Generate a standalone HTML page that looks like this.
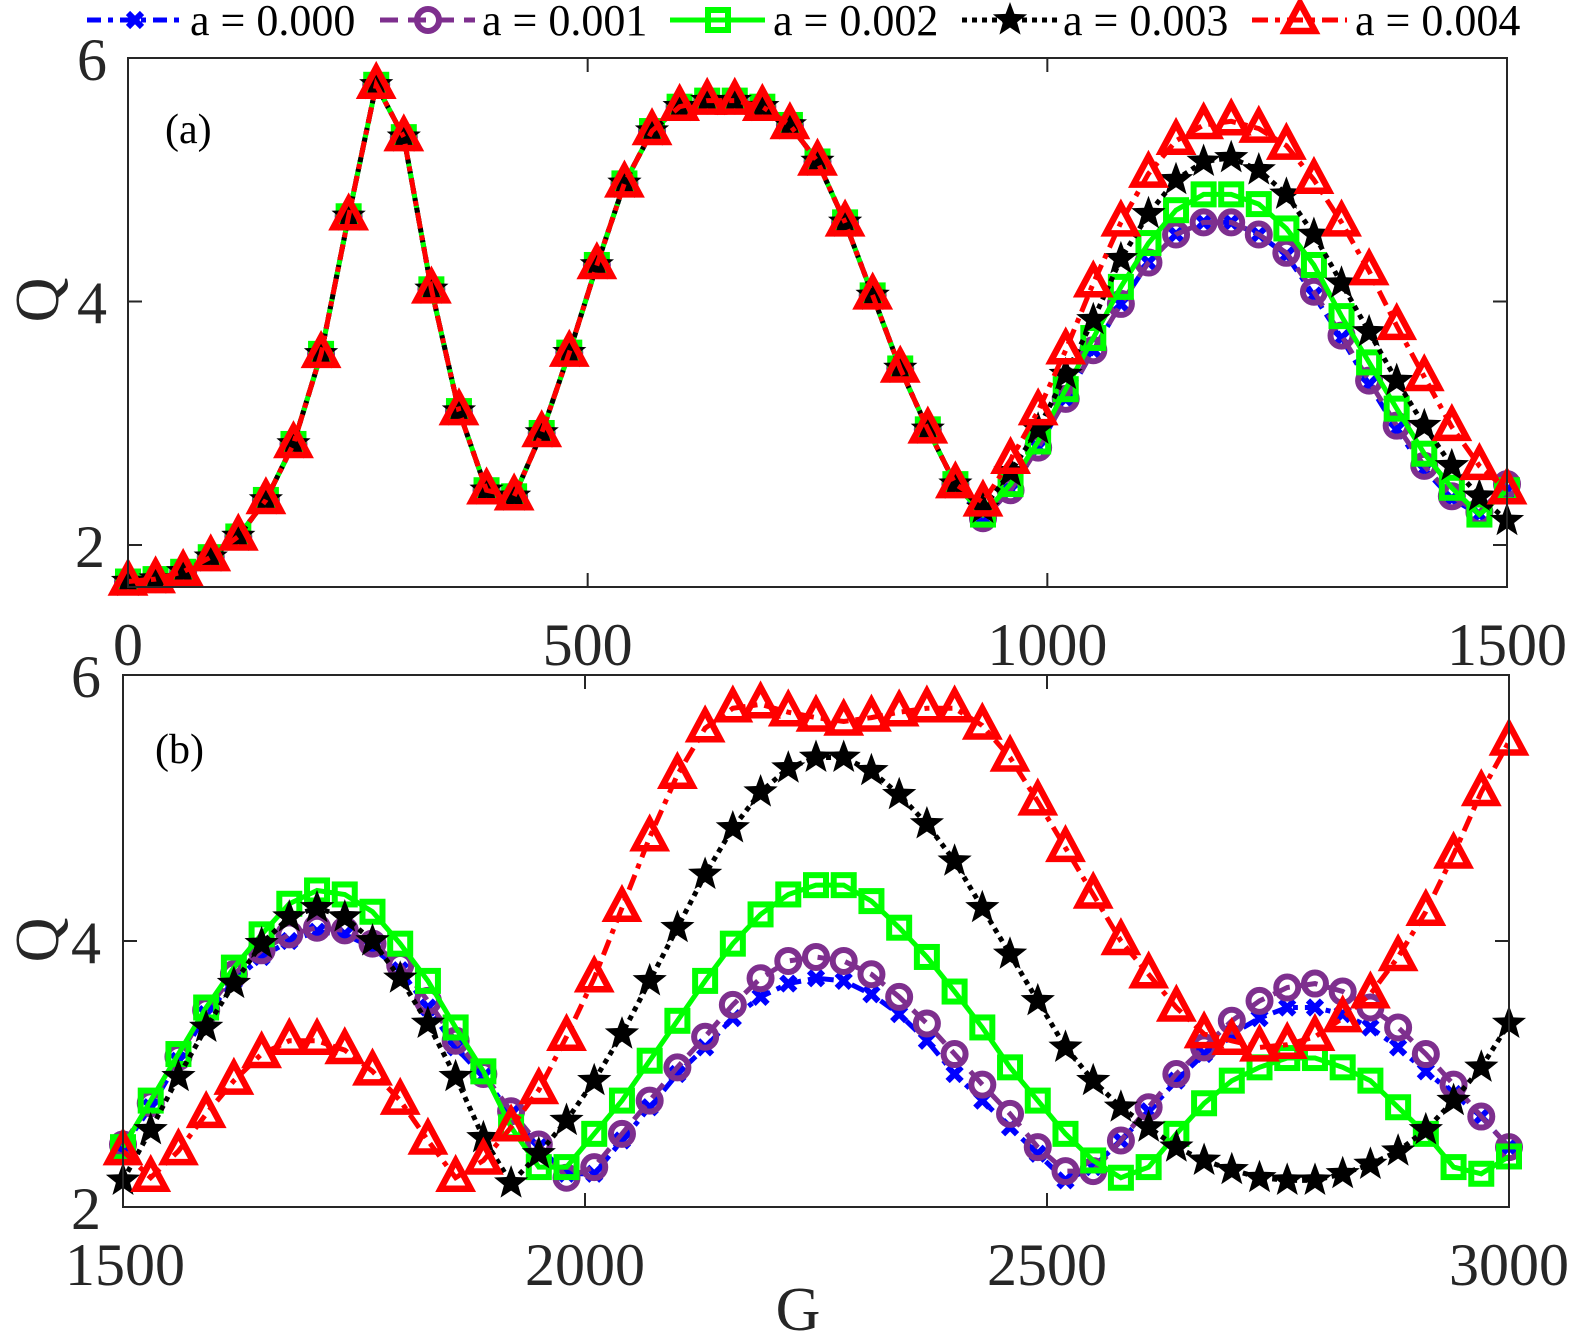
<!DOCTYPE html>
<html><head><meta charset="utf-8"><style>
html,body{margin:0;padding:0;background:#fff;}
svg{display:block;font-family:"Liberation Serif",serif;}
</style></head><body>
<svg id="s" width="1570" height="1333" xmlns="http://www.w3.org/2000/svg"></svg>
<script>
const S=document.getElementById('s');
let h='';
const common=[1.7,1.72,1.78,1.9,2.07,2.37,2.83,3.57,4.7,5.78,5.35,4.1,3.1,2.45,2.4,2.92,3.58,4.3,4.97,5.4,5.6,5.65,5.65,5.6,5.45,5.15,4.65,4.05,3.45,2.95,2.5];
const aTail={
b:[2.22,2.45,2.8,3.2,3.6,3.98,4.32,4.55,4.65,4.65,4.55,4.38,4.05,3.7,3.32,2.95,2.62,2.38,2.25,2.45],
p:[2.22,2.45,2.8,3.2,3.6,3.98,4.32,4.55,4.65,4.65,4.55,4.4,4.08,3.72,3.35,2.98,2.65,2.4,2.27,2.5],
g:[2.25,2.5,2.85,3.28,3.7,4.12,4.48,4.75,4.88,4.88,4.8,4.6,4.3,3.88,3.5,3.12,2.75,2.47,2.25,2.45],
k:[2.3,2.6,2.95,3.4,3.85,4.35,4.72,5.0,5.15,5.18,5.08,4.88,4.55,4.15,3.75,3.35,2.98,2.65,2.4,2.2],
r:[2.35,2.7,3.1,3.6,4.15,4.65,5.05,5.32,5.45,5.48,5.42,5.28,5.0,4.65,4.25,3.8,3.38,2.97,2.65,2.45]};
const B={
b:[2.45,2.75,3.1,3.45,3.7,3.88,4.0,4.07,4.05,3.95,3.78,3.5,3.2,2.98,2.7,2.45,2.25,2.25,2.5,2.75,3.0,3.2,3.42,3.58,3.68,3.72,3.7,3.6,3.45,3.25,3.0,2.8,2.6,2.4,2.2,2.3,2.5,2.72,2.95,3.15,3.3,3.42,3.5,3.5,3.45,3.35,3.2,3.02,2.85,2.68,2.45],
p:[2.47,2.78,3.13,3.48,3.75,3.93,4.05,4.1,4.08,3.98,3.82,3.55,3.25,3.0,2.72,2.47,2.22,2.3,2.55,2.8,3.05,3.28,3.52,3.72,3.85,3.88,3.85,3.75,3.58,3.38,3.15,2.92,2.7,2.45,2.27,2.27,2.5,2.75,3.0,3.2,3.4,3.55,3.65,3.68,3.62,3.5,3.35,3.15,2.92,2.68,2.45],
g:[2.45,2.8,3.15,3.5,3.8,4.05,4.28,4.38,4.35,4.22,3.98,3.7,3.35,3.02,2.6,2.3,2.3,2.55,2.8,3.1,3.4,3.7,3.98,4.2,4.35,4.42,4.42,4.3,4.1,3.88,3.62,3.35,3.05,2.8,2.55,2.35,2.22,2.3,2.55,2.78,2.95,3.05,3.12,3.12,3.05,2.95,2.75,2.55,2.3,2.25,2.38],
k:[2.2,2.58,2.98,3.35,3.68,3.98,4.18,4.25,4.18,4.0,3.72,3.38,2.98,2.52,2.18,2.4,2.65,2.95,3.3,3.7,4.1,4.5,4.85,5.12,5.3,5.38,5.38,5.28,5.1,4.88,4.6,4.25,3.9,3.55,3.2,2.95,2.75,2.6,2.45,2.35,2.28,2.22,2.2,2.2,2.25,2.32,2.42,2.58,2.8,3.05,3.38],
r:[2.42,2.22,2.42,2.7,2.95,3.15,3.25,3.25,3.18,3.02,2.8,2.5,2.22,2.35,2.6,2.88,3.28,3.72,4.25,4.78,5.25,5.6,5.75,5.78,5.72,5.68,5.65,5.68,5.72,5.75,5.75,5.62,5.38,5.05,4.7,4.35,4.0,3.75,3.5,3.3,3.25,3.2,3.22,3.28,3.42,3.6,3.88,4.22,4.65,5.12,5.5]};
const sty={
b:{c:'#0000ff',d:'14 7 5 7'},p:{c:'#7e2f8e',d:'18 10'},g:{c:'#00ff00',d:''},k:{c:'#000',d:'5 5'},r:{c:'#ff0000',d:'16 7 5 7'}};
function marker(k,x,y){
 const c=sty[k].c;
 if(k=='b')return `<path d="M${x-7} ${y-7}L${x+7} ${y+7}M${x+7} ${y-7}L${x-7} ${y+7}" stroke="${c}" stroke-width="6"/>`;
 if(k=='p')return `<circle cx="${x}" cy="${y}" r="11" fill="none" stroke="${c}" stroke-width="6"/>`;
 if(k=='g')return `<rect x="${x-10}" y="${y-10}" width="20" height="20" fill="none" stroke="${c}" stroke-width="6"/>`;
 if(k=='k'){let p='';for(let i=0;i<10;i++){const r=i%2?7.5:18,a=-Math.PI/2+i*Math.PI/5;p+=(i?'L':'M')+(x+r*Math.cos(a)).toFixed(1)+' '+(y+r*Math.sin(a)).toFixed(1);}return `<path d="${p}Z" fill="#000"/>`;}
 if(k=='r')return `<path d="M${x} ${y-17}L${x+15} ${y+11}L${x-15} ${y+11}Z" fill="none" stroke="${c}" stroke-width="6.5" stroke-linejoin="miter"/>`;
}
function series(k,pts){
 let d=pts.map((p,i)=>(i?'L':'M')+p[0].toFixed(1)+' '+p[1].toFixed(1)).join('');
 let s=`<path d="${d}" fill="none" stroke="${sty[k].c}" stroke-width="5" ${sty[k].d?`stroke-dasharray="${sty[k].d}"`:''}/>`;
 pts.forEach(p=>s+=marker(k,p[0],p[1]));return s;
}
const keys=['b','p','g','k','r'];
const ax=g=>128+g*1379/1500, ay=q=>545-(q-2)*121.75;
keys.forEach(k=>{const v=common.slice(0,31).concat(aTail[k]);h+=series(k,v.map((q,i)=>[ax(i*30),ay(q)]));});
const bx=g=>123+(g-1500)*1386/1500, by=q=>1207-(q-2)*133;
keys.forEach(k=>{h+=series(k,B[k].map((q,i)=>[bx(1500+i*30),by(q)]));});
function axes(x0,x1,y0,y1,xt,yt){
 let s=`<rect x="${x0}" y="${y0}" width="${x1-x0}" height="${y1-y0}" fill="none" stroke="#262626" stroke-width="2"/>`;
 xt.forEach(x=>s+=`<path d="M${x} ${y1}v-14M${x} ${y0}v14" stroke="#262626" stroke-width="2"/>`);
 yt.forEach(y=>s+=`<path d="M${x0} ${y}h14M${x1} ${y}h-14" stroke="#262626" stroke-width="2"/>`);
 return s;}
h+=axes(128,1507,58,587,[ax(500),ax(1000)],[ay(4),ay(2)]);
h+=axes(123,1509,675,1207,[bx(2000),bx(2500)],[by(4)]);
const T=(x,y,t,sz,anc)=>`<text x="${x}" y="${y}" font-size="${sz}" text-anchor="${anc||'middle'}" fill="#262626">${t}</text>`;
h+=T(92,80,'6',60)+T(92,323,'4',60)+T(90,567,'2',60);
h+=T(128,665,'0',60)+T(ax(500),665,'500',60)+T(ax(1000),665,'1000',60)+T(1507,665,'1500',60);
h+=T(86,697,'6',60)+T(86,963,'4',60)+T(86,1229,'2',60);
h+=T(125,1285,'1500',60)+T(bx(2000),1285,'2000',60)+T(bx(2500),1285,'2500',60)+T(1509,1285,'3000',60);
h+=`<text x="58" y="300" font-size="62" text-anchor="middle" fill="#262626" transform="rotate(-90 58 300)">Q</text>`;
h+=`<text x="58" y="940" font-size="62" text-anchor="middle" fill="#262626" transform="rotate(-90 58 940)">Q</text>`;
h+=T(798,1330,'G',62);
h+=`<text x="165" y="143" font-size="42" fill="#000">(a)</text><text x="155" y="763" font-size="42" fill="#000">(b)</text>`;
const L=[['b',87,190,'0.000'],['p',380,482,'0.001'],['g',670,773,'0.002'],['k',962,1063,'0.003'],['r',1252,1355,'0.004']];
L.forEach(([k,x0,tx,t])=>{
 h+=`<path d="M${x0} 20H${x0+95}" stroke="${sty[k].c}" stroke-width="5" ${sty[k].d?`stroke-dasharray="${sty[k].d}"`:''}/>`;
 h+=marker(k,x0+48,20);
 h+=`<text x="${tx}" y="35" font-size="44" fill="#000">a = ${t}</text>`;
});
S.innerHTML=h;
</script>
</body></html>
